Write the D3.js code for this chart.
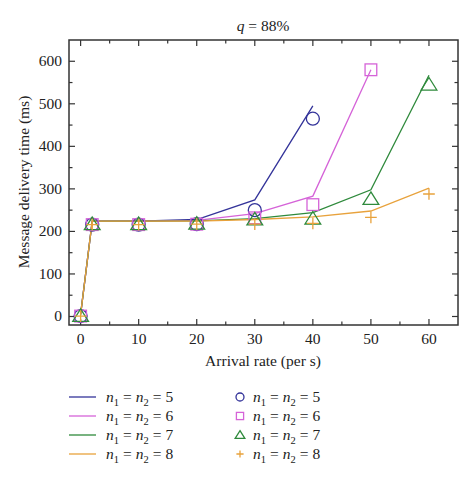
<!DOCTYPE html>
<html>
<head>
<meta charset="utf-8">
<script src="https://cdn.jsdelivr.net/npm/d3@7"></script>
<style>
  body { margin: 0; background: #fff; }
  text { font-family: "Liberation Serif", "DejaVu Serif", serif; fill: #222; }
</style>
</head>
<body>
<script>
'use strict';

// arrival rates (per s) for each series
const xsN5 = [0, 2, 10, 20, 30, 40];
const xsN6 = [0, 2, 10, 20, 30, 40, 50];
const xsN7 = [0, 2, 10, 20, 30, 40, 50, 60];
const xsN8 = [0, 2, 10, 20, 30, 40, 50, 60];

// model lines (ms)
const lineN5 = [5, 224, 224, 228, 274, 495];
const lineN6 = [5, 224, 224, 226, 242, 283, 580];
const lineN7 = [5, 224, 224, 225, 230, 244, 298, 567];
const lineN8 = [5, 224, 224, 224, 228, 234, 248, 302];

// simulation markers (ms)
const markN5 = [1, 216, 216, 217, 250, 465];
const markN6 = [1, 216, 216, 217, 232, 263, 580];
const markN7 = [1, 217, 217, 218, 228, 230, 276, 545];
const markN8 = [1, 216, 216, 217, 217, 219, 233, 288];

const seriesNames = ['5', '6', '7', '8'];
const seriesColors = ['#34349a', '#d563d8', '#2f8a3c', '#e8a23c'];
const markerTypes = ['circle', 'square', 'triangle', 'plus'];

const xTicks = [0, 10, 20, 30, 40, 50, 60];
const yTicks = [0, 100, 200, 300, 400, 500, 600];

(function() {

  const series = [
    { xs: xsN5, line: lineN5, mark: markN5 },
    { xs: xsN6, line: lineN6, mark: markN6 },
    { xs: xsN7, line: lineN7, mark: markN7 },
    { xs: xsN8, line: lineN8, mark: markN8 }
  ];

  const width = 474, height = 481;
  const pLeft = 69, pRight = 458, pTop = 40, pBottom = 325;
  const fs = '15.5px';

  const svg = d3.select('body').append('svg')
    .attr('width', width)
    .attr('height', height);

  const xScale = d3.scaleLinear().domain([-2, 65]).range([pLeft, pRight]);
  const yScale = d3.scaleLinear().domain([-20, 650]).range([pBottom, pTop]);

  // frame
  svg.append('rect')
    .attr('x', pLeft).attr('y', pTop)
    .attr('width', pRight - pLeft).attr('height', pBottom - pTop)
    .attr('fill', 'none').attr('stroke', '#333').attr('stroke-width', 1.5);

  const xMinor = d3.range(5, 65, 10);
  const yMinor = d3.range(50, 650, 100);

  // inward ticks on all four sides
  function ticks(g, vals, len, horizontal) {
    vals.forEach(v => {
      if (horizontal) {
        const x = xScale(v);
        g.append('line').attr('x1', x).attr('x2', x).attr('y1', pBottom).attr('y2', pBottom - len);
        g.append('line').attr('x1', x).attr('x2', x).attr('y1', pTop).attr('y2', pTop + len);
      } else {
        const y = yScale(v);
        g.append('line').attr('y1', y).attr('y2', y).attr('x1', pLeft).attr('x2', pLeft + len);
        g.append('line').attr('y1', y).attr('y2', y).attr('x1', pRight).attr('x2', pRight - len);
      }
    });
  }
  const tickG = svg.append('g').attr('stroke', '#333').attr('stroke-width', 1.2);
  ticks(tickG, xTicks, 6, true);
  ticks(tickG, xMinor, 3.5, true);
  ticks(tickG, yTicks, 6, false);
  ticks(tickG, yMinor, 3.5, false);

  // tick labels
  svg.append('g').selectAll('text')
    .data(xTicks).enter().append('text')
    .attr('x', d => xScale(d))
    .attr('y', 344)
    .attr('text-anchor', 'middle')
    .style('font-size', fs)
    .text(d => d);

  svg.append('g').selectAll('text')
    .data(yTicks).enter().append('text')
    .attr('x', 62)
    .attr('y', d => yScale(d) + 5)
    .attr('text-anchor', 'end')
    .style('font-size', fs)
    .text(d => d);

  // title and axis labels
  const title = svg.append('text')
    .attr('x', 263).attr('y', 31)
    .attr('text-anchor', 'middle')
    .style('font-size', fs);
  title.append('tspan').style('font-style', 'italic').text('q');
  title.append('tspan').text(' = 88%');

  svg.append('text')
    .attr('x', 263).attr('y', 366)
    .attr('text-anchor', 'middle')
    .style('font-size', fs)
    .text('Arrival rate (per s)');

  svg.append('text')
    .attr('transform', 'translate(29, 182)rotate(-90)')
    .attr('text-anchor', 'middle')
    .style('font-size', fs)
    .text('Message delivery time (ms)');

  // marker drawing
  function drawMarker(g, type, x, y, s, color) {
    if (type === 'circle') {
      g.append('circle').attr('cx', x).attr('cy', y).attr('r', s * 0.5)
        .attr('fill', 'none').attr('stroke', color).attr('stroke-width', 1.3);
    } else if (type === 'square') {
      g.append('rect').attr('x', x - s * 0.45).attr('y', y - s * 0.45)
        .attr('width', s * 0.9).attr('height', s * 0.9)
        .attr('fill', 'none').attr('stroke', color).attr('stroke-width', 1.3);
    } else if (type === 'triangle') {
      const h = s * 0.55;
      g.append('path')
        .attr('d', `M${x},${y - h}L${x + h * 1.1},${y + h * 0.75}L${x - h * 1.1},${y + h * 0.75}Z`)
        .attr('fill', 'none').attr('stroke', color).attr('stroke-width', 1.3);
    } else {
      const h = s * 0.45;
      g.append('path')
        .attr('d', `M${x - h},${y}H${x + h}M${x},${y - h}V${y + h}`)
        .attr('fill', 'none').attr('stroke', color).attr('stroke-width', 1.3);
    }
  }

  const line = d3.line()
    .x(d => xScale(d[0]))
    .y(d => yScale(d[1]));

  const plotG = svg.append('g');

  // lines
  series.forEach((s, i) => {
    plotG.append('path')
      .datum(s.xs.map((x, j) => [x, s.line[j]]))
      .attr('fill', 'none')
      .attr('stroke', seriesColors[i])
      .attr('stroke-width', 1.3)
      .attr('d', line);
  });

  // markers
  series.forEach((s, i) => {
    s.xs.forEach((x, j) => {
      drawMarker(plotG, markerTypes[i], xScale(x), yScale(s.mark[j]), 13, seriesColors[i]);
    });
  });

  // legend
  function legendLabel(x, y, name) {
    const t = svg.append('text').attr('x', x).attr('y', y + 5).style('font-size', fs);
    t.append('tspan').style('font-style', 'italic').text('n');
    t.append('tspan').attr('dy', 4).style('font-size', '10.5px').text('1');
    t.append('tspan').attr('dy', -4).attr('dx', 4).text('=');
    t.append('tspan').attr('dx', 4).style('font-style', 'italic').text('n');
    t.append('tspan').attr('dy', 4).style('font-size', '10.5px').text('2');
    t.append('tspan').attr('dy', -4).attr('dx', 4).text('=');
    t.append('tspan').attr('dx', 4).text(name);
  }

  const legendRows = [397, 416, 435, 454];
  seriesNames.forEach((name, i) => {
    const y = legendRows[i];
    svg.append('line')
      .attr('x1', 69).attr('x2', 96).attr('y1', y).attr('y2', y)
      .attr('stroke', seriesColors[i]).attr('stroke-width', 1.3);
    legendLabel(106, y, name);
    drawMarker(svg, markerTypes[i], 240, y, 8, seriesColors[i]);
    legendLabel(253, y, name);
  });

})();
</script>
</body>
</html>
